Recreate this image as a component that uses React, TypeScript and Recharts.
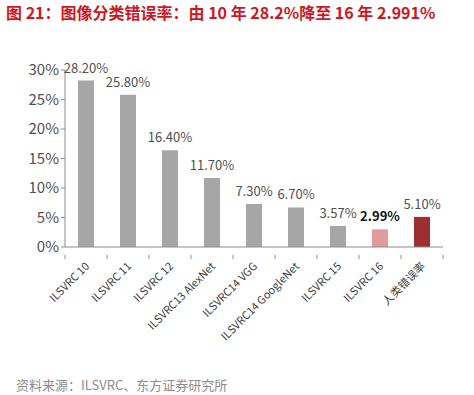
import { BarChart, Bar, XAxis, YAxis, Cell, LabelList } from "recharts"

const categories = [
  "ILSVRC 10",
  "ILSVRC 11",
  "ILSVRC 12",
  "ILSVRC13  AlexNet",
  "ILSVRC14  VGG",
  "ILSVRC14  GoogleNet",
  "ILSVRC 15",
  "ILSVRC 16",
  "人类错误率",
]
const errorRates = [28.2, 25.8, 16.4, 11.7, 7.3, 6.7, 3.57, 2.99, 5.1]
const barLabels = ["28.20%", "25.80%", "16.40%", "11.70%", "7.30%", "6.70%", "3.57%", "2.99%", "5.10%"]
const barColors = ["#a6a6a6", "#a6a6a6", "#a6a6a6", "#a6a6a6", "#a6a6a6", "#a6a6a6", "#a6a6a6", "#e39a9a", "#9e2f31"]
const yTicks = [0, 5, 10, 15, 20, 25, 30]

const chartData = categories.map((name, i) => ({
  name,
  value: errorRates[i],
  label: barLabels[i],
}))

const FONT = "'Noto Sans CJK SC', 'Noto Sans', sans-serif"
const BAND = 42

function XTick(props: any) {
  const { x, y, payload, index } = props
  const last = index === categories.length - 1
  return (
    <g>
      <line x1={x - BAND / 2} x2={x - BAND / 2} y1={y} y2={y + 4} stroke="#8c8c8c" />
      {last && <line x1={x + BAND / 2} x2={x + BAND / 2} y1={y} y2={y + 4} stroke="#8c8c8c" />}
      <text
        x={x + 4}
        y={y + 12}
        textAnchor="end"
        fontSize={11}
        fill="#404040"
        fontFamily={FONT}
        transform={`rotate(-45 ${x + 4} ${y + 12})`}
      >
        {payload.value}
      </text>
    </g>
  )
}

function BarLabel(props: any) {
  const { x, y, width, value, index } = props
  const special = index === 7
  return (
    <text
      x={x + width / 2}
      y={y - 8}
      textAnchor="middle"
      fontSize={13}
      fill={special ? "#111" : "#505050"}
      fontWeight={special ? "bold" : "normal"}
      fontFamily={FONT}
    >
      {value}
    </text>
  )
}

export default function App() {
  return (
    <div style={{ position: "absolute", left: 0, top: 0, width: 474, height: 395, background: "#fff", fontFamily: FONT }}>
      <div
        style={{
          position: "absolute",
          left: 6,
          top: 0,
          fontSize: 16,
          fontWeight: "bold",
          color: "#d0161e",
          whiteSpace: "nowrap",
          fontFamily: "'Noto Sans CJK SC', 'Liberation Sans', sans-serif",
        }}
      >
        图 21：图像分类错误率：由 10 年 28.2%降至 16 年 2.991%
      </div>
      <BarChart
        width={474}
        height={395}
        data={chartData}
        margin={{ top: 70, right: 31, bottom: 118, left: 0 }}
        barCategoryGap={13}
      >
        <XAxis
          dataKey="name"
          interval={0}
          height={30}
          tickLine={false}
          axisLine={{ stroke: "#8c8c8c" }}
          tick={<XTick />}
        />
        <YAxis
          width={65}
          domain={[0, 30]}
          ticks={yTicks}
          tickFormatter={(v: number) => `${v}%`}
          axisLine={{ stroke: "#8c8c8c" }}
          tickLine={{ stroke: "#8c8c8c" }}
          tickSize={4}
          tick={{ fontSize: 15, fill: "#505050", fontFamily: FONT }}
        />
        <Bar dataKey="value" isAnimationActive={false}>
          {chartData.map((d, i) => (
            <Cell key={d.name} fill={barColors[i]} />
          ))}
          <LabelList dataKey="label" content={<BarLabel />} />
        </Bar>
      </BarChart>
      <div
        style={{
          position: "absolute",
          left: 16,
          top: 375,
          fontSize: 13,
          color: "#8c8c8c",
          whiteSpace: "nowrap",
        }}
      >
        资料来源：ILSVRC、东方证券研究所
      </div>
    </div>
  )
}
